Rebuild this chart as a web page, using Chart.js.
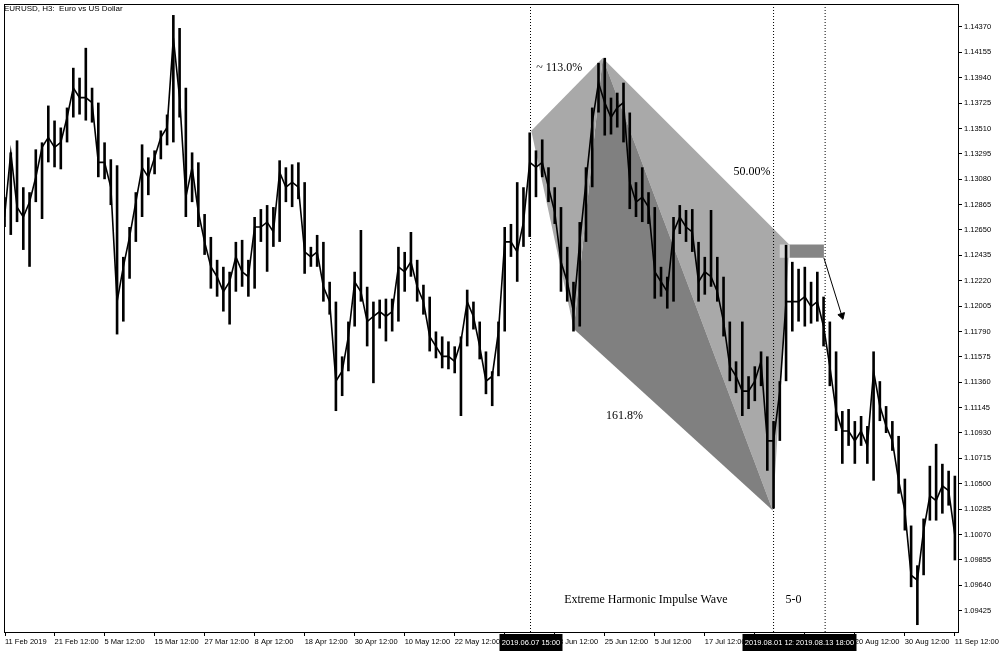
<!DOCTYPE html>
<html>
<head>
<meta charset="utf-8">
<script src="https://cdn.jsdelivr.net/npm/chart.js@4.4.1/dist/chart.umd.min.js"></script>
<style>
html, body { margin: 0; padding: 0; background: #fff; }
#chart { display: block; }
</style>
</head>
<body>
<canvas id="chart" width="1000" height="652"></canvas>
<script>
// EURUSD H3, one entry per trading day from 11 Feb 2019
const dayHigh = [
    1.12928, 1.13307, 1.13409, 1.13012, 1.12970, 1.13333, 1.13392, 1.13704, 1.13577, 1.13518,
    1.13687, 1.14024, 1.13940, 1.14193, 1.13855, 1.13729, 1.13392, 1.13249, 1.13198, 1.12422,
    1.12675, 1.12970, 1.13375, 1.13265, 1.13324, 1.13493, 1.13628, 1.14471, 1.14361, 1.13855,
    1.13307, 1.13223, 1.12785, 1.12591, 1.12397, 1.12338, 1.12296, 1.12549, 1.12566, 1.12397,
    1.12760, 1.12827, 1.12861, 1.12844, 1.13240, 1.13181, 1.13206, 1.13223, 1.13055, 1.12507,
    1.12608, 1.12549, 1.12211, 1.12043, 1.11579, 1.11874, 1.12296, 1.12650, 1.12169, 1.12043,
    1.12060, 1.12068, 1.12068, 1.12507, 1.12464, 1.12633, 1.12397, 1.12186, 1.12085, 1.11790,
    1.11748, 1.11706, 1.11664, 1.11748, 1.12144, 1.12043, 1.11874, 1.11621, 1.11453, 1.11874,
    1.12675, 1.12701, 1.13055, 1.13012, 1.13476, 1.13324, 1.13417, 1.13181, 1.13012, 1.12844,
    1.12507, 1.12211, 1.12717, 1.13181, 1.13687, 1.14066, 1.14108, 1.13771, 1.13813, 1.13898,
    1.13645, 1.13055, 1.13181, 1.12970, 1.12844, 1.12338, 1.12254, 1.12760, 1.12861, 1.12819,
    1.12827, 1.12549, 1.12422, 1.12819, 1.12422, 1.12254, 1.11874, 1.11537, 1.11874, 1.11411,
    1.11495, 1.11621, 1.11579, 1.11031, 1.11369, 1.12524, 1.12380, 1.12321, 1.12338, 1.12211,
    1.12296, 1.12085, 1.11874, 1.11621, 1.11116, 1.11133, 1.11031, 1.11074, 1.10989, 1.11621,
    1.11369, 1.11158, 1.11031, 1.10905, 1.10543, 1.10146, 1.09809, 1.10205, 1.10652, 1.10838,
    1.10669, 1.10610, 1.10568
];
const dayLow = [
    1.12675, 1.12608, 1.12717, 1.12481, 1.12338, 1.12886, 1.12743, 1.13223, 1.13181, 1.13164,
    1.13392, 1.13603, 1.13628, 1.13577, 1.13560, 1.13097, 1.13080, 1.12861, 1.11765, 1.11874,
    1.12237, 1.12549, 1.12760, 1.12945, 1.13122, 1.13249, 1.13367, 1.13392, 1.13603, 1.12760,
    1.12886, 1.12675, 1.12439, 1.12153, 1.12085, 1.11959, 1.11849, 1.12127, 1.12169, 1.12085,
    1.12153, 1.12549, 1.12296, 1.12507, 1.12549, 1.12886, 1.12844, 1.12911, 1.12279, 1.12338,
    1.12338, 1.12043, 1.11933, 1.11116, 1.11243, 1.11453, 1.11832, 1.12043, 1.11664, 1.11352,
    1.11815, 1.11706, 1.11790, 1.11874, 1.12127, 1.12254, 1.12043, 1.11933, 1.11621, 1.11563,
    1.11478, 1.11470, 1.11436, 1.11074, 1.11664, 1.11807, 1.11554, 1.11259, 1.11158, 1.11411,
    1.11790, 1.12422, 1.12211, 1.12507, 1.12591, 1.12928, 1.13097, 1.12886, 1.12701, 1.12127,
    1.12043, 1.11790, 1.11832, 1.12549, 1.13012, 1.13645, 1.13450, 1.13459, 1.13518, 1.13392,
    1.12827, 1.12760, 1.12717, 1.12701, 1.12068, 1.12085, 1.11984, 1.12043, 1.12616, 1.12549,
    1.12464, 1.12043, 1.12102, 1.12169, 1.12043, 1.11748, 1.11369, 1.11268, 1.11074, 1.11133,
    1.11200, 1.11327, 1.10610, 1.10290, 1.10863, 1.11369, 1.11790, 1.11874, 1.11832, 1.11857,
    1.11874, 1.11664, 1.11327, 1.10947, 1.10669, 1.10821, 1.10669, 1.10821, 1.10669, 1.10526,
    1.11031, 1.10930, 1.10779, 1.10416, 1.10104, 1.09624, 1.09303, 1.09725, 1.10188, 1.10188,
    1.10247, 1.10315, 1.09851
];
const dayClose = [
    1.12760, 1.13307, 1.12844, 1.12760, 1.12886, 1.13097, 1.13350, 1.13434, 1.13350, 1.13392,
    1.13603, 1.13855, 1.13771, 1.13771, 1.13729, 1.13223, 1.13223, 1.13012, 1.12043, 1.12338,
    1.12591, 1.12886, 1.13181, 1.13097, 1.13265, 1.13434, 1.13518, 1.14277, 1.13771, 1.12928,
    1.13181, 1.12802, 1.12549, 1.12338, 1.12254, 1.12127, 1.12211, 1.12422, 1.12296, 1.12254,
    1.12675, 1.12675, 1.12717, 1.12633, 1.13139, 1.13012, 1.13055, 1.13012, 1.12464, 1.12422,
    1.12464, 1.12169, 1.12043, 1.11369, 1.11453, 1.11748, 1.12211, 1.12127, 1.11874, 1.11917,
    1.11959, 1.11917, 1.11959, 1.12338, 1.12296, 1.12380, 1.12169, 1.12043, 1.11748, 1.11664,
    1.11579, 1.11579, 1.11537, 1.11706, 1.12043, 1.11917, 1.11664, 1.11369, 1.11411, 1.11790,
    1.12549, 1.12549, 1.12464, 1.12717, 1.13223, 1.13181, 1.13223, 1.13012, 1.12802, 1.12380,
    1.12211, 1.11959, 1.12549, 1.13055, 1.13560, 1.13898, 1.13729, 1.13603, 1.13687, 1.13729,
    1.13055, 1.12886, 1.12928, 1.12844, 1.12296, 1.12211, 1.12127, 1.12633, 1.12760, 1.12675,
    1.12633, 1.12211, 1.12296, 1.12254, 1.12127, 1.11874, 1.11495, 1.11411, 1.11285, 1.11285,
    1.11369, 1.11537, 1.10863, 1.10863, 1.11285, 1.12043, 1.12043, 1.12043, 1.12085, 1.12001,
    1.12043, 1.11832, 1.11495, 1.11116, 1.10947, 1.10947, 1.10863, 1.10947, 1.10821, 1.11453,
    1.11158, 1.10989, 1.10863, 1.10526, 1.10273, 1.09725, 1.09683, 1.10104, 1.10399, 1.10357,
    1.10483, 1.10441, 1.10062
];

const barsPerDay = 8; // H3 bars in a trading day, x axis counts bars
const xMin = 4.6, xMax = 1224;
const yMin = 1.09244, yMax = 1.14556;

const yTicks = [
    1.09425, 1.09640, 1.09855, 1.10070, 1.10285, 1.10500, 1.10715, 1.10930,
    1.11145, 1.11360, 1.11575, 1.11790, 1.12005, 1.12220, 1.12435, 1.12650,
    1.12865, 1.13080, 1.13295, 1.13510, 1.13725, 1.13940, 1.14155, 1.14370
];
const xTickBars = [4.6, 68, 132, 196, 260, 324, 388, 452, 516, 580, 644, 708, 772, 836, 900, 964, 1028, 1092, 1156, 1220];
const xTickLabels = [
    "11 Feb 2019", "21 Feb 12:00", "5 Mar 12:00", "15 Mar 12:00", "27 Mar 12:00", "8 Apr 12:00",
    "18 Apr 12:00", "30 Apr 12:00", "10 May 12:00", "22 May 12:00", "3 Jun 12:00", "13 Jun 12:00",
    "25 Jun 12:00", "5 Jul 12:00", "17 Jul 12:00", "29 Jul 12:00", "8 Aug 12:00", "20 Aug 12:00",
    "30 Aug 12:00", "11 Sep 12:00"
];

// vertical time markers
const markerBars = [677, 988, 1054];
const markerLabels = ["2019.06.07 15:00", "2019.08.01 12:00", "2019.08.13 18:00"];

// harmonic pattern points [bar, price]
const pX = [678.0, 1.13490];
const pA = [769.4, 1.14108];
const pB = [732.4, 1.11810];
const pC = [1008.3, 1.12524];
const pD = [987.0, 1.10273];
const boxBars = [995.9, 1008.3, 1052.4];
const boxPrices = [1.12526, 1.12414];
const arrowEnd = [1075.3, 1.11925];

const title = "EURUSD, H3:  Euro vs US Dollar";
const notes = [
    { text: "~ 113.0%", bar: 684.3, price: 1.14024 },
    { text: "50.00%", bar: 936.9, price: 1.13139 },
    { text: "161.8%", bar: 773.6, price: 1.11074 },
    { text: "Extreme Harmonic Impulse Wave", bar: 720.1, price: 1.09514 },
    { text: "5-0", bar: 1003.2, price: 1.09514 },
];

const pt = (p) => ({ x: p[0], y: p[1] });

const shape = (points, color, order) => ({
    type: "line",
    data: points.map(pt),
    fill: "shape",
    backgroundColor: color,
    borderColor: "rgba(0,0,0,0)",
    borderWidth: 0,
    pointRadius: 0,
    order: order,
});

const markerSets = markerBars.map((b) => ({
    type: "line",
    data: [{ x: b, y: yMin }, { x: b, y: yMax }],
    borderColor: "#000",
    borderWidth: 1,
    borderDash: [1, 2],
    pointRadius: 0,
    order: 3,
}));

const overlay = {
    id: "overlay",
    afterDraw(chart) {
        const { ctx, chartArea: a, scales } = chart;
        const x = scales.x, y = scales.y;
        ctx.save();
        ctx.strokeStyle = "#000";
        ctx.lineWidth = 1;
        ctx.strokeRect(a.left - 0.5, a.top - 0.5, a.right - a.left + 1, a.bottom - a.top + 1);

        ctx.fillStyle = "#000";
        ctx.font = '8px "Liberation Sans"';
        ctx.textBaseline = "alphabetic";
        ctx.fillText(title, 4, 11);

        ctx.font = '12px "Liberation Serif"';
        ctx.textBaseline = "middle";
        notes.forEach((n) => {
            ctx.fillText(n.text, x.getPixelForValue(n.bar), y.getPixelForValue(n.price));
        });

        // highlighted times on the time scale
        ctx.font = '7.5px "Liberation Sans"';
        ctx.textAlign = "center";
        markerBars.forEach((b, i) => {
            const px = Math.round(x.getPixelForValue(b));
            const w = Math.ceil(ctx.measureText(markerLabels[i]).width) + 4;
            ctx.fillStyle = "#000";
            ctx.fillRect(px - w / 2, a.bottom + 2, w, 17);
            ctx.fillStyle = "#fff";
            ctx.fillText(markerLabels[i], px, a.bottom + 11);
        });
        ctx.restore();
    },
};

new Chart(document.getElementById("chart"), {
    type: "bar",
    data: {
        datasets: [
            {
                type: "bar",
                data: dayHigh.map((h, i) => ({ x: i * barsPerDay + 4, y: [dayLow[i], h] })),
                backgroundColor: "#000",
                barPercentage: 0.42,
                categoryPercentage: 1,
                order: 0,
            },
            {
                type: "line",
                data: dayClose.map((c, i) => ({ x: i * barsPerDay + 4, y: c })),
                borderColor: "#000",
                borderWidth: 1.6,
                pointRadius: 0,
                order: 1,
            },
            {
                type: "line",
                data: [{ x: boxBars[2], y: boxPrices[1] }, pt(arrowEnd)],
                borderColor: "#000",
                borderWidth: 1,
                pointRadius: [0, 4],
                pointStyle: "triangle",
                rotation: 163,
                pointBackgroundColor: "#000",
                pointBorderColor: "#000",
                order: 2,
            },
            ...markerSets,
            shape([[boxBars[0], boxPrices[0]], [boxBars[1], boxPrices[0]], [boxBars[1], boxPrices[1]], [boxBars[0], boxPrices[1]], [boxBars[0], boxPrices[0]]], "#d6d6d6", 4),
            shape([[boxBars[1], boxPrices[0]], [boxBars[2], boxPrices[0]], [boxBars[2], boxPrices[1]], [boxBars[1], boxPrices[1]], [boxBars[1], boxPrices[0]]], "#858585", 4),
            shape([pX, pA, pB, pX], "#a9a9a9", 5),
            shape([pA, pB, pD, pA], "#808080", 5),
            shape([pA, pC, pD, pA], "#a9a9a9", 5),
        ],
    },
    options: {
        responsive: false,
        animation: false,
        devicePixelRatio: 1,
        layout: { padding: { left: 2, top: 2, right: 0, bottom: 0 } },
        plugins: { legend: { display: false }, tooltip: { enabled: false } },
        scales: {
            x: {
                type: "linear",
                min: xMin,
                max: xMax,
                offset: false,
                afterBuildTicks: (s) => { s.ticks = xTickBars.map((v) => ({ value: v })); },
                afterFit: (s) => { s.height = 20; s.paddingLeft = 0; s.paddingRight = 0; },
                grid: { drawOnChartArea: false, drawTicks: true, tickLength: 4, color: "#000", offset: false },
                border: { display: true, color: "#000" },
                ticks: {
                    autoSkip: false,
                    maxRotation: 0,
                    minRotation: 0,
                    align: "start",
                    padding: 1,
                    color: "#000",
                    font: { family: "Liberation Sans", size: 7.5 },
                    callback: (v, i) => xTickLabels[i],
                },
            },
            y: {
                position: "right",
                min: yMin,
                max: yMax,
                afterBuildTicks: (s) => { s.ticks = yTicks.map((v) => ({ value: v })); },
                afterFit: (s) => { s.width = 42; s.paddingTop = 0; s.paddingBottom = 0; },
                grid: { drawOnChartArea: false, drawTicks: true, tickLength: 4, color: "#000" },
                border: { display: true, color: "#000" },
                ticks: {
                    autoSkip: false,
                    padding: 2,
                    color: "#000",
                    font: { family: "Liberation Sans", size: 7.5 },
                    callback: (v) => v.toFixed(5),
                },
            },
        },
    },
    plugins: [overlay],
});
</script>
</body>
</html>
